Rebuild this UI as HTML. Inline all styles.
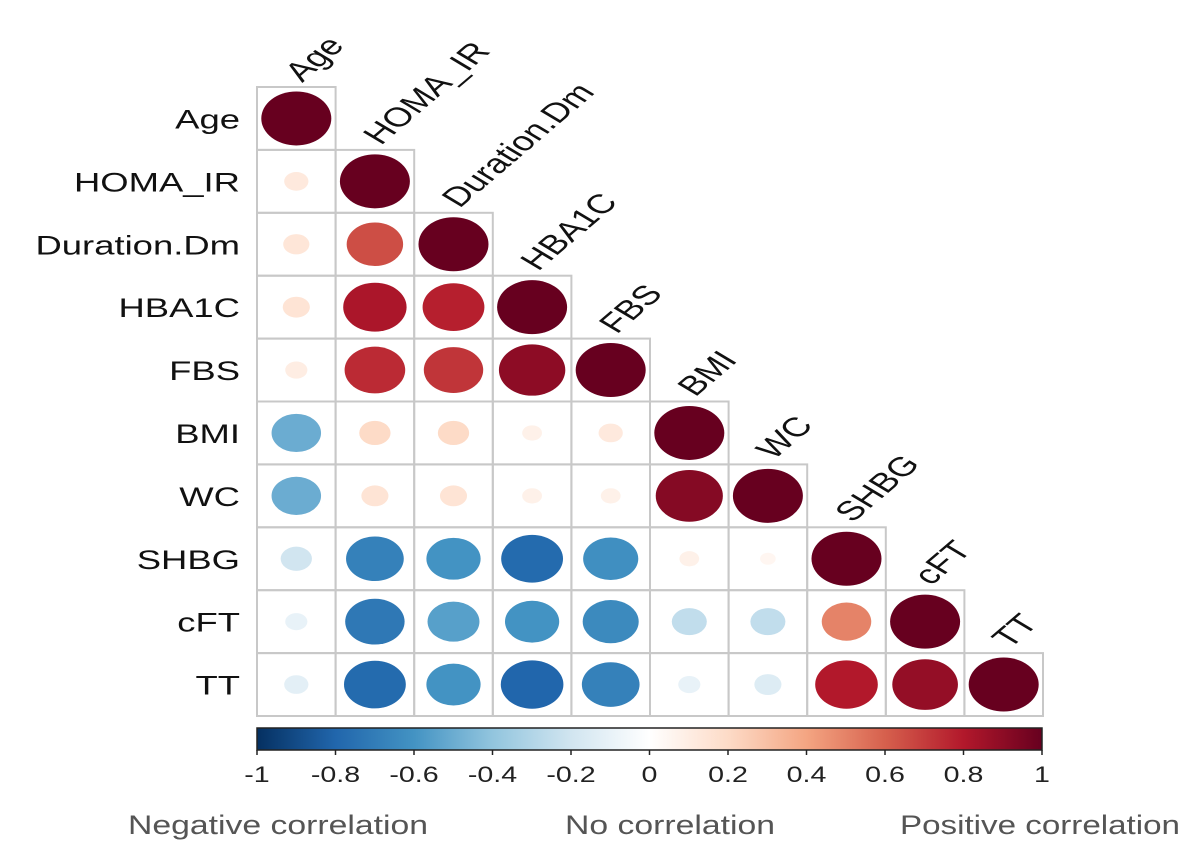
<!DOCTYPE html>
<html><head><meta charset="utf-8"><style>
body{margin:0;background:#fff;}
svg{display:block;font-family:"Liberation Sans",sans-serif;}
</style></head><body>
<svg id="chart" width="1200" height="866"></svg>
<script>
const labels=["Age","HOMA_IR","Duration.Dm","HBA1C","FBS","BMI","WC","SHBG","cFT","TT"];
const rowAge=[1];
const rowHOMA=[0.12,1];
const rowDur=[0.14,0.65,1];
const rowHBA=[0.15,0.82,0.78,1];
const rowFBS=[0.1,0.75,0.72,0.9,1];
const rowBMI=[-0.5,0.2,0.2,0.08,0.12,1];
const rowWC=[-0.5,0.15,0.15,0.08,0.08,0.92,1];
const rowSHBG=[-0.2,-0.68,-0.6,-0.78,-0.62,0.08,0.05,1];
const rowCFT=[-0.1,-0.72,-0.55,-0.6,-0.64,-0.25,-0.25,0.5,1];
const rowTT=[-0.12,-0.78,-0.6,-0.8,-0.68,-0.1,-0.15,0.8,0.88,1];
const tickVals=[-1,-0.8,-0.6,-0.4,-0.2,0,0.2,0.4,0.6,0.8,1];
const rows=[rowAge,rowHOMA,rowDur,rowHBA,rowFBS,rowBMI,rowWC,rowSHBG,rowCFT,rowTT];

const NS="http://www.w3.org/2000/svg";
const svg=document.getElementById('chart');
const X0=257,Y0=87,CW=78.6,CH=62.9,SX=1.4;
const colX=j=>X0+j*CW, rowY=i=>Y0+i*CH;
const stops=["#053061","#2166AC","#4393C3","#92C5DE","#D1E5F0","#FFFFFF","#FDDBC7","#F4A582","#D6604D","#B2182B","#67001F"];
function hex(h){return [1,3,5].map(k=>parseInt(h.substr(k,2),16));}
function color(v){const t=(v+1)/2*10;const i=Math.min(9,Math.floor(t));const f=t-i;const a=hex(stops[i]),b=hex(stops[i+1]);
return "rgb("+a.map((c,k)=>Math.round(c+(b[k]-c)*f)).join(",")+")";}
function el(tag,attrs,parent){const e=document.createElementNS(NS,tag);for(const k in attrs)e.setAttribute(k,attrs[k]);(parent||svg).appendChild(e);return e;}

rows.forEach((r,i)=>{
  r.forEach((v,j)=>{
    const cell=el('rect',{x:colX(j),y:rowY(i),width:CW,height:CH,fill:'none',stroke:'#c8c8c8','stroke-width':2});
    
    
    const s=Math.sqrt(Math.abs(v));
    const c=el('ellipse',{cx:colX(j)+CW/2,cy:rowY(i)+CH/2,rx:35*s,ry:27*s,fill:color(v)});
    
    
  });
  const t=el('text',{x:0,y:0,'text-anchor':'end','font-size':27,fill:'#111',transform:'translate(240 '+(rowY(i)+CH/2+10)+') scale(1.35 1)'});
  t.textContent=labels[i];
  
  
  const cx=colX(i)+CW/2+6, cy=rowY(i)-4;
  const ct=el('text',{x:0,y:0,'font-size':27,fill:'#111',transform:'translate('+cx+' '+cy+') scale('+SX+' 1) rotate(-50)'});
  ct.textContent=labels[i];
  
  
});

// colorbar
const cbX0=257,cbX1=1042,cbY=728,cbH=22;
const defs=el('defs',{});
const g=el('linearGradient',{id:'rdbu',x1:0,x2:1,y1:0,y2:0},defs);
stops.forEach((s,k)=>el('stop',{offset:(k*10)+'%','stop-color':s},g));
const cb=el('rect',{x:cbX0,y:cbY,width:cbX1-cbX0,height:cbH,fill:'url(#rdbu)',stroke:'#222','stroke-width':1.5});


const cbScale=v=>cbX0+(v+1)/2*(cbX1-cbX0);
tickVals.forEach(v=>{
  const tk=el('line',{x1:cbScale(v),x2:cbScale(v),y1:cbY+cbH,y2:cbY+cbH+5,stroke:'#222','stroke-width':1.5});
  
  
  const tl=el('text',{x:0,y:0,'text-anchor':'middle','font-size':22,fill:'#222',transform:'translate('+cbScale(v)+' 782) scale(1.3 1)'});
  tl.textContent=String(v);
  
  
});
[["Negative correlation",128,300],["No correlation",565,210],["Positive correlation",900,280]].forEach(([s,x,w])=>{
  const t=el('text',{x:x,y:834,'font-size':27,fill:'#555',textLength:w,lengthAdjust:'spacingAndGlyphs'});
  t.textContent=s;
  
  
});
</script>
</body></html>
